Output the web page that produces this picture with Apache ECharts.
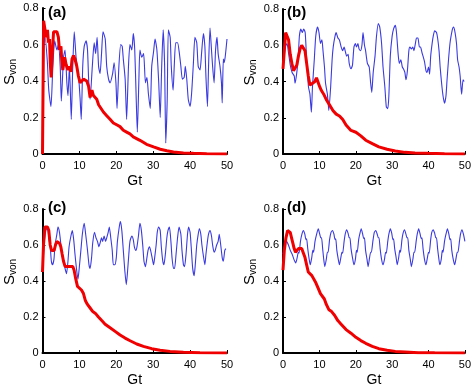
<!DOCTYPE html>
<html><head><meta charset="utf-8">
<script src="https://cdn.jsdelivr.net/npm/echarts@6/dist/echarts.min.js"></script>
<style>html,body{margin:0;padding:0;background:#fff}#c{width:474px;height:388px}</style>
</head><body><div id="c"></div>
<script>
// ---- Data (Gt, S_von) ----
const xTicks = [0, 10, 20, 30, 40, 50];
const yTicks = [0, 0.2, 0.4, 0.6, 0.8];
const panelLabels = ['(a)', '(b)', '(c)', '(d)'];

// Panel (a)
const aBlueT = [0,0.25,0.7,1.3,1.7,2.3,2.8,3.3,3.9,4.3,4.8,5.1,5.7,6.1,6.6,6.9,7.3,7.8,8.2,8.6,9.1,9.8,10.2,10.5,10.9,11.3,11.8,12.2,12.5,12.9,13.5,14.0,14.4,14.8,15.2,15.6,16.0,16.4,17.0,17.4,17.9,18.3,19.0,19.4,19.9,20.2,20.7,21.2,21.6,21.9,22.4,22.8,23.3,23.7,24.2,24.6,25.0,25.4,25.7,26.1,26.4,26.9,27.4,27.9,28.3,28.7,29.2,29.6,30.1,30.5,31.0,31.5,31.9,32.3,32.7,33.1,33.4,33.8,34.1,34.6,34.9,35.4,35.7,36.1,36.6,37.1,37.5,37.9,38.4,38.7,39.1,39.5,40.0,40.4,40.9,41.3,41.8,42.2,42.7,43.1,43.6,44.0,44.3,44.7,45.0,45.4,45.8,46.1,46.5,46.9,47.3,47.6,48.1,48.5,48.7,49.0,49.2,49.5,50.0];
const aBlueS = [0,0.6,0.64,0.51,0.35,0.26,0.48,0.62,0.57,0.60,0.48,0.29,0.53,0.57,0.39,0.32,0.48,0.19,0.48,0.67,0.53,0.42,0.30,0.19,0.48,0.59,0.62,0.57,0.41,0.30,0.48,0.61,0.55,0.64,0.48,0.44,0.55,0.67,0.63,0.48,0.41,0.39,0.44,0.50,0.39,0.25,0.48,0.60,0.59,0.52,0.41,0.19,0.48,0.60,0.57,0.66,0.57,0.30,0.12,0.39,0.57,0.53,0.55,0.39,0.42,0.33,0.25,0.48,0.56,0.63,0.57,0.39,0.20,0.48,0.68,0.48,0.06,0.30,0.68,0.64,0.48,0.35,0.48,0.61,0.61,0.55,0.48,0.41,0.42,0.48,0.41,0.30,0.26,0.33,0.50,0.64,0.61,0.48,0.46,0.55,0.66,0.59,0.42,0.26,0.48,0.69,0.57,0.48,0.39,0.57,0.64,0.55,0.48,0.39,0.28,0.52,0.50,0.53,0.63];
const aRedT = [0,0.3,0.5,1.0,1.35,1.6,1.9,2.1,2.35,2.7,3.0,3.4,3.9,4.3,4.6,5.0,5.2,5.5,6.0,6.4,6.9,7.3,7.7,8.0,8.4,8.8,9.3,9.7,10.2,10.6,11.1,11.6,12.0,12.5,12.9,13.4,13.8,14.3,14.7,15.2,15.6,16.5,17.4,18.3,19.2,20.1,21.0,21.9,22.8,23.7,24.6,26.4,28.2,30.1,31.9,33.7,35.5,38.2,40.9,44.5,50];
const aRedS = [0,0.73,0.72,0.64,0.68,0.61,0.63,0.50,0.42,0.57,0.67,0.66,0.67,0.64,0.57,0.59,0.52,0.46,0.53,0.49,0.46,0.48,0.45,0.52,0.54,0.52,0.48,0.43,0.39,0.40,0.41,0.41,0.40,0.37,0.31,0.35,0.32,0.31,0.30,0.27,0.26,0.23,0.21,0.19,0.17,0.16,0.15,0.13,0.12,0.11,0.094,0.075,0.053,0.039,0.026,0.018,0.011,0.006,0.004,0.002,0];

// Panel (b)
const bBlueT = [0,0.6,1.1,1.5,2.0,2.5,3.1,3.3,3.8,4.2,4.5,4.9,5.3,5.7,6.1,6.5,7.0,7.4,7.8,8.1,8.6,9.0,9.5,9.9,10.3,10.7,11.0,11.4,11.7,12.2,12.6,13.1,13.5,13.8,14.3,14.6,15.1,15.5,16.0,16.4,16.8,17.2,17.5,17.9,18.2,18.7,19.1,19.5,19.9,20.2,20.6,20.9,21.3,21.7,22.0,22.4,22.7,23.2,23.7,24.1,24.4,24.8,25.3,25.7,26.2,26.6,27.1,27.5,28.0,28.4,28.8,29.1,29.5,30.0,30.4,30.9,31.2,31.7,32.0,32.4,32.8,33.1,33.5,33.8,34.2,34.6,34.9,35.3,35.7,36.0,36.4,36.7,37.1,37.5,37.8,38.2,38.5,38.9,39.3,39.6,40.0,40.3,40.6,41.0,41.3,41.7,42.2,42.5,42.9,43.2,43.6,44.0,44.4,44.8,45.1,45.5,45.9,46.2,46.6,46.9,47.3,47.7,48.0,48.4,48.7,49.1,49.5,49.8];
const bBlueS = [0.47,0.59,0.61,0.56,0.49,0.45,0.43,0.39,0.45,0.54,0.65,0.69,0.67,0.69,0.67,0.52,0.37,0.33,0.23,0.37,0.52,0.65,0.70,0.67,0.61,0.63,0.57,0.48,0.39,0.33,0.24,0.37,0.52,0.59,0.65,0.67,0.64,0.63,0.59,0.57,0.59,0.56,0.54,0.55,0.50,0.47,0.49,0.59,0.61,0.59,0.61,0.58,0.57,0.60,0.67,0.60,0.57,0.50,0.48,0.39,0.34,0.45,0.54,0.65,0.72,0.70,0.61,0.48,0.37,0.26,0.25,0.32,0.54,0.65,0.69,0.71,0.67,0.54,0.50,0.52,0.48,0.47,0.45,0.41,0.46,0.57,0.59,0.58,0.59,0.57,0.61,0.64,0.64,0.59,0.59,0.56,0.54,0.51,0.46,0.45,0.48,0.44,0.54,0.61,0.65,0.68,0.67,0.64,0.57,0.48,0.39,0.32,0.28,0.32,0.41,0.52,0.61,0.65,0.69,0.70,0.67,0.61,0.52,0.48,0.43,0.33,0.41,0.40];
const bRedT = [0,0.36,0.72,1.08,1.53,1.99,2.44,2.89,3.34,3.79,4.24,4.69,5.14,5.60,6.05,6.50,6.95,7.40,8.12,8.75,9.21,9.66,10.11,10.56,11.19,11.91,12.82,13.72,14.62,15.52,16.43,17.33,18.68,20.04,21.39,22.74,24.55,26.35,28.61,30.87,33.57,36.28,39.89,44.40,50];
const bRedS = [0.47,0.57,0.67,0.68,0.63,0.55,0.50,0.46,0.47,0.49,0.54,0.58,0.60,0.59,0.57,0.50,0.43,0.38,0.39,0.40,0.42,0.41,0.37,0.35,0.33,0.30,0.27,0.24,0.22,0.21,0.19,0.16,0.13,0.12,0.10,0.076,0.057,0.039,0.026,0.017,0.009,0.006,0.004,0.002,0];

// Panel (c)
const cBlueT = [0,0.5,0.9,1.4,1.7,2.1,2.4,2.7,3.1,3.4,3.9,4.2,4.6,5.0,5.3,5.7,6.1,6.5,6.9,7.2,7.7,8.1,8.5,8.8,9.2,9.6,9.9,10.4,10.8,11.3,11.7,12.2,12.6,12.9,13.3,13.6,14.1,14.5,14.9,15.3,15.6,16.0,16.3,16.7,17.1,17.4,17.8,18.1,18.5,18.9,19.2,19.6,20.0,20.3,20.8,21.1,21.5,21.9,22.3,22.7,23.0,23.4,23.7,24.2,24.6,24.9,25.3,25.6,26.0,26.4,26.8,27.2,27.5,27.9,28.3,28.6,29.0,29.3,29.7,30.1,30.4,30.8,31.1,31.5,31.9,32.2,32.6,32.9,33.3,33.7,34.0,34.4,34.8,35.1,35.5,35.8,36.2,36.6,37.0,37.5,37.8,38.2,38.5,38.9,39.3,39.6,40.0,40.3,40.7,41.1,41.4,41.8,42.2,42.5,42.9,43.2,43.6,44.0,44.3,44.7,45.0,45.4,45.8,46.1,46.5,46.8,47.2,47.6,47.9,48.3,48.7,49.0,49.4,49.7];
const cBlueS = [0.45,0.62,0.68,0.70,0.64,0.59,0.51,0.49,0.52,0.60,0.66,0.70,0.67,0.60,0.55,0.51,0.47,0.44,0.51,0.59,0.65,0.68,0.62,0.55,0.47,0.41,0.46,0.57,0.66,0.72,0.66,0.57,0.49,0.47,0.53,0.61,0.67,0.64,0.62,0.59,0.61,0.64,0.62,0.65,0.62,0.64,0.67,0.70,0.64,0.57,0.49,0.49,0.53,0.62,0.70,0.73,0.68,0.57,0.46,0.38,0.44,0.55,0.62,0.65,0.63,0.59,0.57,0.59,0.65,0.72,0.68,0.59,0.51,0.48,0.53,0.57,0.59,0.57,0.53,0.49,0.53,0.60,0.67,0.70,0.68,0.59,0.51,0.49,0.55,0.64,0.68,0.70,0.62,0.53,0.47,0.47,0.55,0.64,0.70,0.66,0.57,0.49,0.48,0.55,0.66,0.70,0.67,0.59,0.47,0.43,0.49,0.60,0.66,0.69,0.66,0.60,0.54,0.49,0.55,0.62,0.66,0.68,0.65,0.60,0.56,0.57,0.60,0.62,0.66,0.60,0.53,0.51,0.57,0.58];
const cRedT = [0,0.27,0.63,0.99,1.35,1.71,2.08,2.44,2.80,3.16,3.52,3.88,4.24,4.60,4.96,5.32,5.69,6.14,6.59,7.13,7.67,8.21,8.57,9.03,9.48,10.02,10.56,11.10,11.64,12.18,12.91,13.63,14.35,15.16,16.06,16.97,18.32,19.68,21.03,22.38,23.74,25.54,27.35,29.60,31.86,34.57,38.18,42.69,50];
const cRedS = [0.45,0.60,0.70,0.71,0.70,0.68,0.60,0.57,0.58,0.57,0.60,0.62,0.63,0.61,0.59,0.55,0.51,0.48,0.47,0.48,0.49,0.48,0.46,0.41,0.37,0.36,0.35,0.33,0.29,0.27,0.25,0.23,0.22,0.20,0.18,0.16,0.14,0.12,0.10,0.083,0.068,0.050,0.037,0.024,0.015,0.009,0.004,0.002,0];

// Panel (d)
const dBlueT = [0,0.5,1.0,1.5,2.0,2.5,3.0,3.5,
 3.9,4.2,4.4,4.8,5.2,5.6,6.0,6.3,6.5,6.8,7.2,7.5,
 7.9,8.2,8.4,8.8,9.3,9.7,10.1,10.4,10.6,10.9,11.2,11.5,
 11.9,12.2,12.4,12.8,13.2,13.6,14.0,14.3,14.5,14.8,15.2,15.5,
 15.9,16.2,16.4,16.8,17.1,17.5,17.9,18.2,18.4,18.7,19.1,19.5,
 19.9,20.2,20.4,20.8,21.1,21.5,21.9,22.2,22.4,22.7,23.1,23.4,
 23.8,24.1,24.3,24.7,25.1,25.5,25.9,26.2,26.4,26.7,27.1,27.5,
 27.9,28.2,28.4,28.8,29.1,29.5,29.9,30.2,30.4,30.7,31.1,31.4,
 31.8,32.1,32.3,32.7,33.0,33.4,33.8,34.1,34.3,34.6,35.0,35.3,
 35.7,36.0,36.2,36.6,36.9,37.3,37.7,38.0,38.2,38.5,38.9,39.3,
 39.7,40.0,40.2,40.6,40.9,41.3,41.7,42.0,42.2,42.5,42.8,43.1,
 43.5,43.8,44.0,44.4,44.8,45.2,45.6,45.9,46.1,46.4,46.8,47.2,
 47.6,47.9,48.1,48.5,48.8,49.2,49.6,50.0];
const dBlueS = [0.55,0.60,0.62,0.60,0.57,0.55,0.52,0.50,
 0.53,0.56,0.555,0.62,0.66,0.68,0.66,0.63,0.635,0.58,0.52,0.49,
 0.53,0.57,0.56,0.62,0.665,0.69,0.66,0.64,0.64,0.58,0.52,0.48,
 0.52,0.56,0.56,0.63,0.67,0.68,0.66,0.63,0.635,0.57,0.52,0.49,
 0.53,0.56,0.555,0.62,0.66,0.685,0.665,0.64,0.64,0.58,0.53,0.49,
 0.52,0.57,0.56,0.63,0.66,0.69,0.66,0.635,0.64,0.57,0.52,0.48,
 0.53,0.56,0.56,0.62,0.67,0.68,0.66,0.64,0.64,0.58,0.52,0.49,
 0.52,0.56,0.555,0.62,0.66,0.69,0.665,0.63,0.635,0.58,0.53,0.49,
 0.53,0.57,0.56,0.63,0.665,0.685,0.66,0.64,0.64,0.57,0.52,0.48,
 0.52,0.56,0.56,0.62,0.66,0.69,0.66,0.635,0.64,0.58,0.52,0.49,
 0.53,0.56,0.555,0.63,0.67,0.685,0.665,0.64,0.64,0.58,0.53,0.49,
 0.52,0.57,0.56,0.62,0.66,0.69,0.66,0.63,0.635,0.57,0.52,0.49,
 0.53,0.56,0.56,0.62,0.66,0.685,0.66,0.62];
const dRedT = [0,0.36,0.81,1.26,1.71,1.99,2.35,2.71,3.07,3.43,3.79,4.24,4.69,5.14,5.60,6.05,6.50,6.95,7.40,7.94,8.48,9.03,9.66,10.29,10.83,11.37,11.91,12.64,13.36,14.17,15.07,15.97,17.33,18.68,20.04,21.39,22.74,24.55,26.35,28.61,30.87,33.57,37.18,41.70,50];
const dRedS = [0.46,0.57,0.64,0.68,0.69,0.67,0.64,0.61,0.58,0.56,0.57,0.58,0.59,0.58,0.57,0.53,0.49,0.45,0.44,0.43,0.42,0.39,0.36,0.33,0.32,0.30,0.27,0.24,0.23,0.21,0.18,0.16,0.13,0.11,0.087,0.069,0.054,0.037,0.024,0.015,0.009,0.006,0.002,0.001,0];

// ---- Build chart ----
function zip(t, s) { const n = Math.min(t.length, s.length); const r = []; for (let i = 0; i < n; i++) r.push([t[i], s[i]]); return r; }
const panels = [
  { blue: zip(aBlueT, aBlueS), red: zip(aRedT, aRedS), grid: { left: 42, top: 8, width: 185, height: 146 }, label: { left: 48, top: 5 } },
  { blue: zip(bBlueT, bBlueS), red: zip(bRedT, bRedS), grid: { left: 283, top: 9, width: 185, height: 145 }, label: { left: 287, top: 5 } },
  { blue: zip(cBlueT, cBlueS), red: zip(cRedT, cRedS), grid: { left: 42, top: 209, width: 185, height: 144 }, label: { left: 48, top: 200 } },
  { blue: zip(dBlueT, dBlueS), red: zip(dRedT, dRedS), grid: { left: 283, top: 209, width: 185, height: 144 }, label: { left: 287, top: 200 } }
];
const FONT = 'Liberation Sans, Arial, sans-serif';
const axisLine = { show: true, onZero: false, lineStyle: { color: '#000', width: 2 } };
const option = { animation: false, backgroundColor: '#fff', grid: [], xAxis: [], yAxis: [], series: [], title: [] };
panels.forEach((p, i) => {
  option.grid.push(Object.assign({ containLabel: false }, p.grid));
  option.xAxis.push({
    type: 'value', gridIndex: i, min: xTicks[0], max: xTicks[xTicks.length - 1], interval: xTicks[1] - xTicks[0],
    axisLine: axisLine, axisTick: { show: true, inside: true, length: 3, lineStyle: { color: '#000', width: 1 } },
    splitLine: { show: false },
    axisLabel: { color: '#000', fontSize: 11, fontFamily: FONT, margin: 6 },
    name: 'Gt', nameLocation: 'middle', nameGap: 20,
    nameTextStyle: { color: '#000', fontSize: 14, fontFamily: FONT }
  });
  option.yAxis.push({
    type: 'value', gridIndex: i, min: yTicks[0], max: yTicks[yTicks.length - 1], interval: yTicks[1] - yTicks[0],
    axisLine: axisLine, axisTick: { show: true, inside: true, length: 3, lineStyle: { color: '#000', width: 1 } },
    splitLine: { show: false },
    axisLabel: { color: '#000', fontSize: 11, fontFamily: FONT, margin: 4 },
    name: '{s|S}{v|von}', nameLocation: 'middle', nameGap: 24, nameRotate: 90,
    nameTextStyle: {
      color: '#000', fontFamily: FONT, padding: [0, 0, 0, 18],
      rich: { s: { fontSize: 15, fontFamily: FONT, color: '#000', lineHeight: 18 },
              v: { fontSize: 10, fontFamily: FONT, color: '#000', padding: [7, 0, 0, 0], lineHeight: 18 } }
    }
  });
  option.series.push({ type: 'line', xAxisIndex: i, yAxisIndex: i, data: p.blue, showSymbol: false, symbol: 'none',
    smooth: 0.2, lineStyle: { color: '#3a3ae0', width: 1.1 }, z: 2 });
  option.series.push({ type: 'line', xAxisIndex: i, yAxisIndex: i, data: p.red, showSymbol: false, symbol: 'none',
    lineStyle: { color: '#f00000', width: 3 }, z: 3 });
  option.title.push({ text: panelLabels[i], left: p.label.left, top: p.label.top, padding: 0,
    textStyle: { fontSize: 15, fontWeight: 'bold', color: '#000', fontFamily: FONT } });
});
const chart = echarts.init(document.getElementById('c'), null, { renderer: 'canvas' });
chart.setOption(option);
</script>
</body></html>
